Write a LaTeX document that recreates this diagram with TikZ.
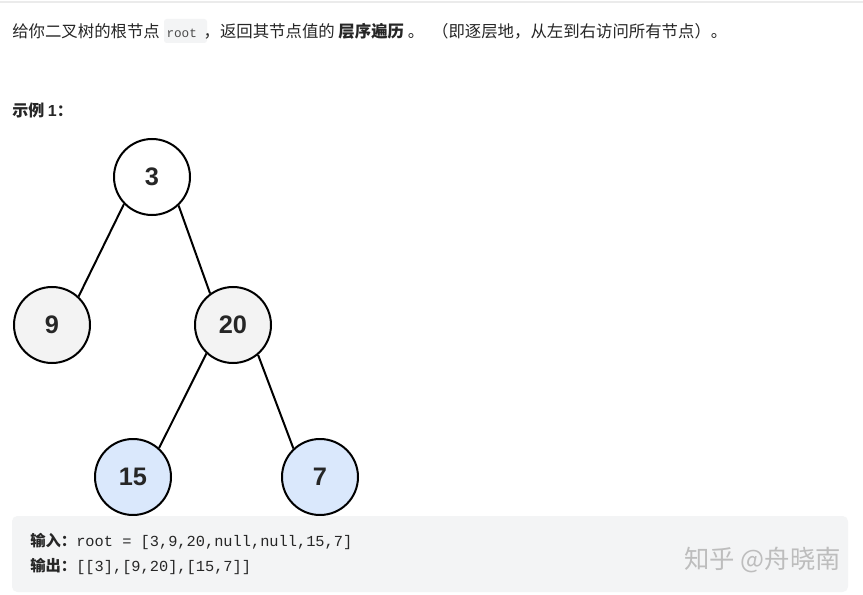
\documentclass[tikz,border=0pt]{standalone}
\usepackage{fontspec}
\usepackage{xcolor}
\usepackage{tikz}
\usetikzlibrary{positioning}
\setmainfont{Noto Sans CJK SC}
\setmonofont{Liberation Mono}
\newfontfamily\numfont{Liberation Sans}
\definecolor{txtdark}{HTML}{262626}
\definecolor{codebg}{HTML}{F3F4F5}
\definecolor{graynode}{HTML}{F3F3F3}
\definecolor{bluenode}{HTML}{DAE8FC}
\definecolor{markgray}{HTML}{BDBDBD}

\begin{document}
\begin{tikzpicture}[x=0.75pt, y=-0.75pt,
    treenode/.style={circle, draw=black, line width=1.5pt, minimum size=57pt,
      inner sep=0pt, font=\numfont\bfseries\fontsize{19}{19}\selectfont, text=txtdark},
    edge/.style={line width=1.5pt}]
  \useasboundingbox (0,0) rectangle (863,595);
  \fill[white] (0,0) rectangle (863,595);

  % top rule and the question
  \draw[line width=1pt, black!8] (0,2) -- (863,2);
  \fill[codebg, rounded corners=2pt] (164,19) rectangle (207,43);
  \node[anchor=west, inner sep=0pt, text=txtdark, font=\fontsize{12.3}{14}\selectfont] (question) at (12,31)
    {给你二叉树的根节点\hspace{5pt}{\ttfamily\fontsize{9.5}{10}\selectfont\color{black!70}root}\hspace{5pt}，返回其节点值的 \textbf{层序遍历} 。\hspace{6pt}（即逐层地，从左到右访问所有节点）。};
  \node[anchor=west, inner sep=0pt, text=txtdark, font=\fontsize{12}{14}\selectfont\bfseries] (example) at (12,110)
    {示例 {\numfont 1}：};

  % the tree
  \node[treenode, fill=white]    (n3)  at (152,177) {3};
  \node[treenode, fill=graynode] (n9)  at (52,325)  {9};
  \node[treenode, fill=graynode] (n20) at (233,325) {20};
  \node[treenode, fill=bluenode] (n15) at (133,477) {15};
  \node[treenode, fill=bluenode] (n7)  at (320,477) {7};
  \draw[edge] (n3.224) -- (n9.47);
  \draw[edge] (n3.313) -- (n20.126);
  \draw[edge] (n20.227) -- (n15.48);
  \draw[edge] (n20.310) -- (n7.133);

  % input / output box
  \fill[codebg, rounded corners=4pt] (12,516) rectangle (848,592);
  \node[anchor=west, inner sep=0pt, text=txtdark, font=\fontsize{11.5}{13}\selectfont] (input) at (30,541)
    {\textbf{输入：}{\ttfamily root = [3,9,20,null,null,15,7]}};
  \node[anchor=west, inner sep=0pt, text=txtdark, font=\fontsize{11.5}{13}\selectfont] (output) at (30,566)
    {\textbf{输出：}{\ttfamily [[3],[9,20],[15,7]]}};
  \node[anchor=east, inner sep=0pt, text=markgray, font=\fontsize{19}{21}\selectfont] (mark) at (841,560)
    {知乎 @舟晓南};
\end{tikzpicture}
\end{document}
